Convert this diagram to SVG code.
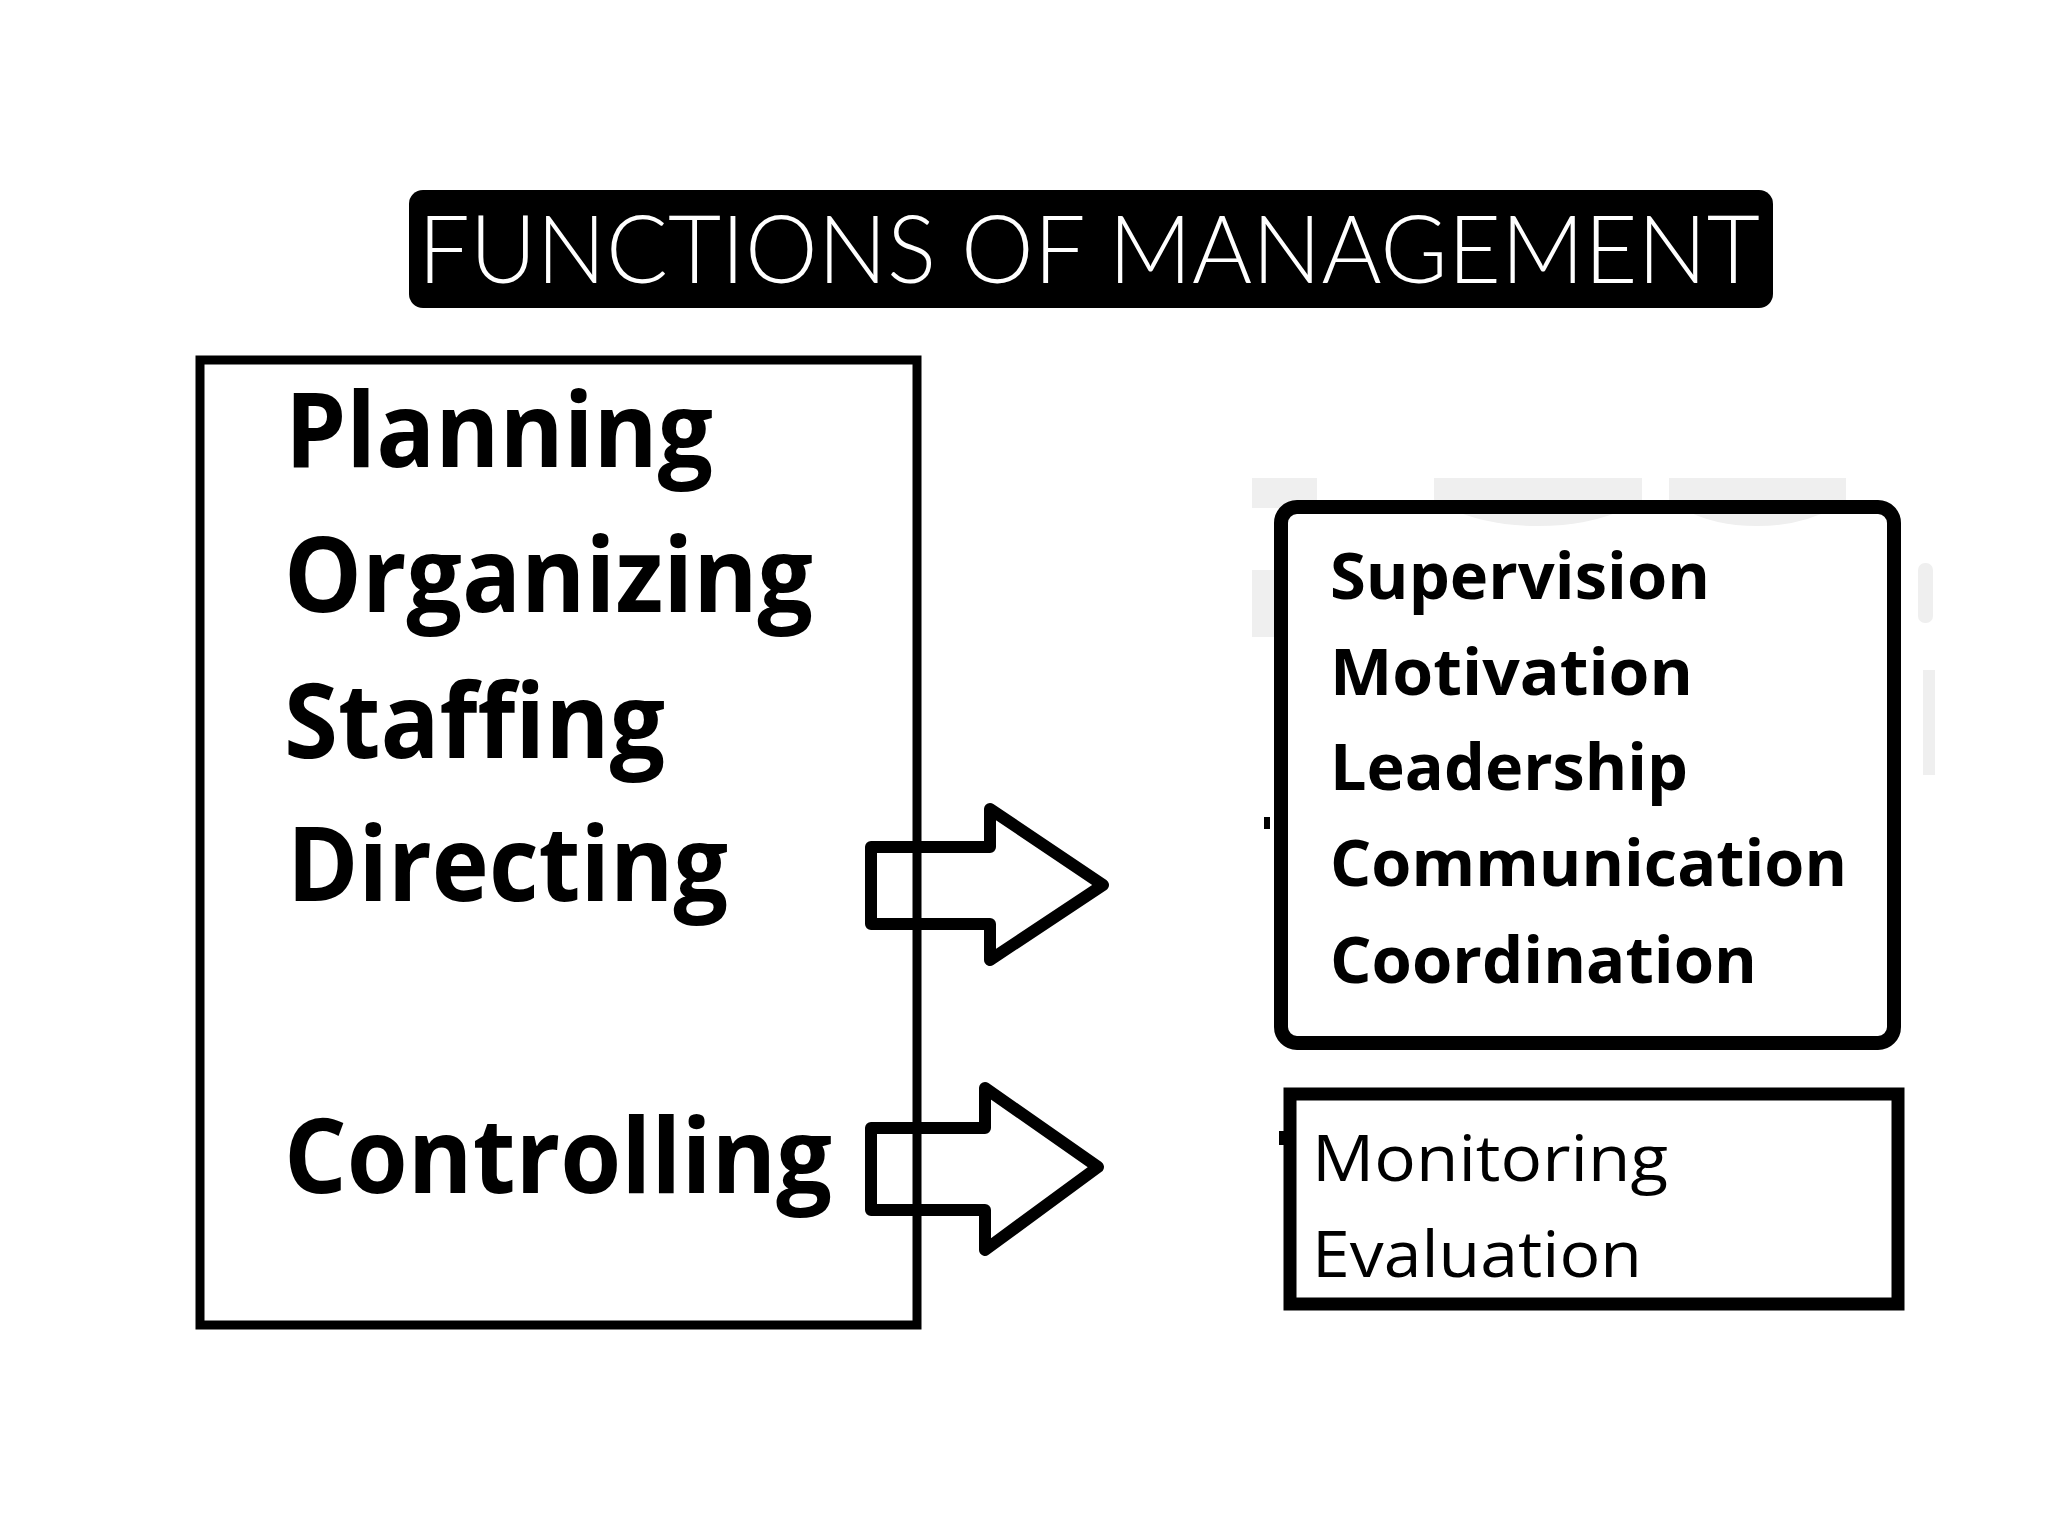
<svg xmlns="http://www.w3.org/2000/svg" width="2048" height="1536" viewBox="0 0 2048 1536">
<style>
.bold{font-family:"Open Sans","Liberation Sans",sans-serif;font-weight:700;fill:#000}
.reg{font-family:"Open Sans","Liberation Sans",sans-serif;font-weight:400;fill:#000}
.title{font-family:Lato,"Liberation Sans",sans-serif;font-weight:300;fill:#fff}
.box{fill:none;stroke:#000}
.arrow{fill:none;stroke:#000;stroke-width:12;stroke-linejoin:round}
.wm{fill:#efefef}
</style>
<rect width="2048" height="1536" fill="#fff"/>
<g id="watermark">
<rect class="wm" x="1252" y="478" width="65" height="30"/>
<path class="wm" d="M1434 478 H1642 V500 Q1600 526 1538 526 Q1476 526 1434 500 Z"/>
<path class="wm" d="M1669 478 H1846 V500 Q1810 526 1757 526 Q1704 526 1669 500 Z"/>
<rect class="wm" x="1252" y="570" width="24" height="67"/>
<rect class="wm" x="1918" y="563" width="15" height="60" rx="7"/>
<rect class="wm" x="1923" y="670" width="12" height="105"/>
</g>
<g id="title">
<rect x="409" y="190" width="1364" height="118" rx="14" fill="#000"/>
<text class="title" x="418" y="283" font-size="94" textLength="1342" lengthAdjust="spacingAndGlyphs">FUNCTIONS OF MANAGEMENT</text>
</g>
<g id="connectors">
<path id="arrow-directing" class="arrow" d="M871 847 H990 V809 L1103 885 L990 960 V924 H871 Z"/>
<path id="arrow-controlling" class="arrow" d="M871 1128 H985 V1088 L1098 1167 L985 1250 V1210 H871 Z"/>
</g>
<g id="functions">
<rect class="box" x="200" y="360" width="717" height="965" stroke-width="9"/>
<text class="bold" x="285" y="467" font-size="104" textLength="428" lengthAdjust="spacingAndGlyphs">Planning</text>
<text class="bold" x="284" y="612" font-size="104" textLength="529" lengthAdjust="spacingAndGlyphs">Organizing</text>
<text class="bold" x="284" y="758" font-size="104" textLength="381" lengthAdjust="spacingAndGlyphs">Staffing</text>
<text class="bold" x="287" y="901" font-size="104" textLength="441" lengthAdjust="spacingAndGlyphs">Directing</text>
<text class="bold" x="284" y="1193" font-size="104" textLength="548" lengthAdjust="spacingAndGlyphs">Controlling</text>
</g>
<g id="directing-elements">
<rect class="box" x="1281" y="507" width="613" height="536" rx="16" stroke-width="14"/>
<rect x="1264" y="817" width="6" height="12" fill="#000"/>
<text class="bold" x="1330" y="599" font-size="64" textLength="380" lengthAdjust="spacingAndGlyphs">Supervision</text>
<text class="bold" x="1330" y="695" font-size="64" textLength="363" lengthAdjust="spacingAndGlyphs">Motivation</text>
<text class="bold" x="1330" y="790" font-size="64" textLength="358" lengthAdjust="spacingAndGlyphs">Leadership</text>
<text class="bold" x="1330" y="886" font-size="64" textLength="517" lengthAdjust="spacingAndGlyphs">Communication</text>
<text class="bold" x="1330" y="983" font-size="64" textLength="427" lengthAdjust="spacingAndGlyphs">Coordination</text>
</g>
<g id="controlling-elements">
<rect class="box" x="1290" y="1094" width="608" height="210" stroke-width="13"/>
<rect x="1279" y="1131" width="5" height="14" fill="#000"/>
<text class="reg" x="1312" y="1181" font-size="64" textLength="356" lengthAdjust="spacingAndGlyphs">Monitoring</text>
<text class="reg" x="1312" y="1277" font-size="64" textLength="330" lengthAdjust="spacingAndGlyphs">Evaluation</text>
</g>
</svg>
